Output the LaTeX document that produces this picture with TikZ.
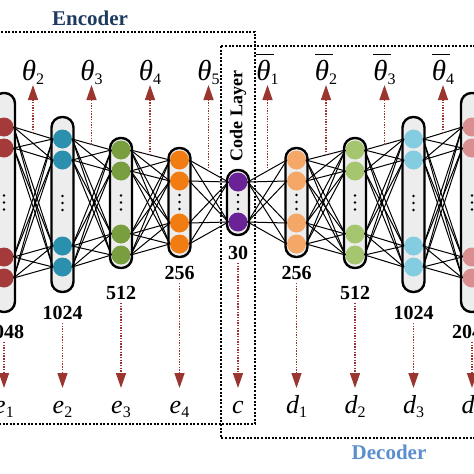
\documentclass[tikz,border=0pt]{standalone}
\usepackage{fontspec}
\setmainfont{Liberation Serif}
\usetikzlibrary{arrows.meta}
\definecolor{cEa}{HTML}{A43A3A}
\definecolor{cEb}{HTML}{2B8FAE}
\definecolor{cEc}{HTML}{789E3F}
\definecolor{cEd}{HTML}{F07C12}
\definecolor{cC}{HTML}{6A2296}
\definecolor{cDa}{HTML}{F5A767}
\definecolor{cDb}{HTML}{A5C56F}
\definecolor{cDc}{HTML}{84CDE0}
\definecolor{cDd}{HTML}{D98F8F}
\definecolor{capfill}{HTML}{EDEDED}
\definecolor{arrowred}{HTML}{9A3530}
\definecolor{encblue}{HTML}{1E3A5F}
\definecolor{decblue}{HTML}{5B8FCF}
\newcommand\sublab[2]{#1\raisebox{-4.5pt}{\upshape\fontsize{16}{16}\selectfont #2}}
\newcommand\barth{\makebox[0pt][l]{\raisebox{25pt}{\rule{18pt}{1.3pt}}}{\itshape θ}}
\begin{document}
\begin{tikzpicture}[x=1pt,y=-1pt,
  capsule/.style={draw=black, line width=2.4pt, fill=capfill, rounded corners=10.5pt, minimum width=22pt, inner sep=0pt},
  neuron/.style={circle, inner sep=0pt, minimum size=19pt},
  link/.style={line width=1pt, black},
  vdot/.style={circle, fill=black, inner sep=0pt, minimum size=2.8pt},
  redarrow/.style={draw=arrowred, line width=1.4pt, dash pattern=on 1.4pt off 1.3pt, -{Triangle[width=10pt,length=15pt]}},
  numlab/.style={font=\bfseries\fontsize{20}{20}\selectfont, inner sep=0pt},
  symlab/.style={font=\fontsize{26}{26}\selectfont, inner sep=0pt, anchor=base},
  thlab/.style={font=\fontsize{29}{29}\selectfont, inner sep=0pt, anchor=base},
  boxline/.style={draw=black, line width=1.4pt, dash pattern=on 2pt off 1.6pt}
]
\useasboundingbox (0,0) rectangle (474,474);
\clip (0,0) rectangle (474,474);

% dashed boxes
\draw[boxline] (-5,32) rectangle (255,424);
\draw[boxline] (221,46) rectangle (480,438);
\node[font=\bfseries\fontsize{21}{21}\selectfont, text=encblue] (enc) at (90,18) {Encoder};
\node[font=\bfseries\fontsize{21}{21}\selectfont, text=decblue] (dec) at (389,452) {Decoder};
\node[font=\bfseries\fontsize{18}{18}\selectfont, rotate=90] (codelayer) at (238,116) {Code Layer};

% layers with four neurons
\foreach \n/\x/\t/\b/\ya/\yb/\yc/\yd/\col/\lab/\ly in {
  E1/4/93/312/127/148/257/278/cEa/2048/332,
  E2/62.5/117/292/139/160/246/267/cEb/1024/313,
  E3/121/138/268/150/171/234/255/cEc/512/293,
  E4/179.5/148/257/160/181/223/244/cEd/256/273,
  D1/296.5/148/257/160/181/223/244/cDa/256/273,
  D2/355/138/268/150/171/234/255/cDb/512/293,
  D3/413.5/117/292/139/160/246/267/cDc/1024/313,
  D4/472/93/312/127/148/257/278/cDd/2048/332}
{
  \node[capsule, minimum height={\b-\t}] (\n-cap) at (\x,{(\t+\b)/2}) {};
  \node[neuron, fill=\col] (\n-a) at (\x,\ya) {};
  \node[neuron, fill=\col] (\n-b) at (\x,\yb) {};
  \node[neuron, fill=\col] (\n-c) at (\x,\yc) {};
  \node[neuron, fill=\col] (\n-d) at (\x,\yd) {};
  \node[vdot] (\n-p) at (\x,{(\yb+\yc)/2-7}) {};
  \node[vdot] (\n-q) at (\x,{(\yb+\yc)/2}) {};
  \node[vdot] (\n-r) at (\x,{(\yb+\yc)/2+7}) {};
  \node[numlab] (\n-lab) at (\x,\ly) {\lab};
  \coordinate (\n-tip) at (\x,388);
  \draw[redarrow] ([yshift=-3pt]\n-lab.south) -- (\n-tip);
}

% code layer
\node[capsule, minimum height=65] (C-cap) at (238,202.5) {};
\node[neuron, fill=cC] (C-a) at (238,182) {};
\node[neuron, fill=cC] (C-b) at (238,222) {};
\node[vdot] (C-p) at (238,195) {};
\node[vdot] (C-q) at (238,202) {};
\node[vdot] (C-r) at (238,209) {};
\node[numlab] (C-lab) at (238,253) {30};
\coordinate (C-tip) at (238,388);
\draw[redarrow] ([yshift=-3pt]C-lab.south) -- (C-tip);

% connections
\foreach \p/\q in {E1/E2,E2/E3,E3/E4,D1/D2,D2/D3,D3/D4}
  \foreach \i in {a,b,c,d}
    \foreach \j in {a,b,c,d}
      \draw[link] (\p-\i.east) -- (\q-\j.west);
\foreach \i in {a,b,c,d}
  \foreach \j in {a,b}
  {
    \draw[link] (E4-\i.east) -- (C-\j.west);
    \draw[link] (C-\j.east) -- (D1-\i.west);
  }

% bottom labels
\node[symlab] (e1) at (4,413) {\sublab{\itshape e}{1}};
\node[symlab] (e2) at (62.5,413) {\sublab{\itshape e}{2}};
\node[symlab] (e3) at (121,413) {\sublab{\itshape e}{3}};
\node[symlab] (e4) at (179.5,413) {\sublab{\itshape e}{4}};
\node[symlab] (cc) at (238,413) {\itshape c};
\node[symlab] (d1) at (296.5,413) {\sublab{\itshape d}{1}};
\node[symlab] (d2) at (355,413) {\sublab{\itshape d}{2}};
\node[symlab] (d3) at (413.5,413) {\sublab{\itshape d}{3}};
\node[symlab] (d4) at (472,413) {\sublab{\itshape d}{4}};

% theta arrows
\foreach \k/\x/\s/\txt in {
  t2/33/133/{\sublab{\itshape θ}{2}},
  t3/91.5/144.5/{\sublab{\itshape θ}{3}},
  t4/150/155/{\sublab{\itshape θ}{4}},
  t5/208.5/171/{\sublab{\itshape θ}{5}},
  u1/267.5/171/{\sublab{\barth}{1}},
  u2/326/155/{\sublab{\barth}{2}},
  u3/384.5/144.5/{\sublab{\barth}{3}},
  u4/443/133/{\sublab{\barth}{4}}}
{
  \coordinate (\k-s) at (\x,\s);
  \coordinate (\k-e) at (\x,85);
  \draw[redarrow] (\k-s) -- (\k-e);
  \node[thlab] (\k) at (\x,80) {\txt};
}
\end{tikzpicture}
\end{document}
